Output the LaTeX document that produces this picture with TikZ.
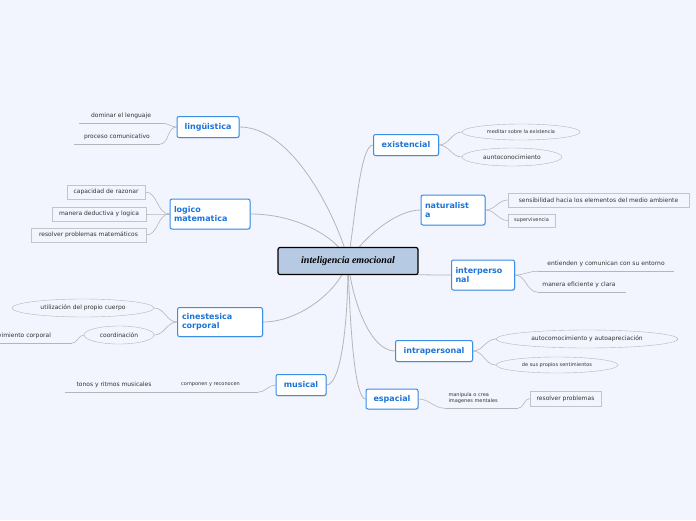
\documentclass[tikz,border=0pt]{standalone}
\usepackage{fontspec}
\setmainfont{DejaVu Sans}
\newfontfamily\cfont{Liberation Serif}
\usetikzlibrary{backgrounds,shadows,shapes.geometric}
\definecolor{bg}{HTML}{F2F5FD}
\definecolor{bl}{HTML}{1C74D9}
\definecolor{bbord}{HTML}{3A8EE6}
\definecolor{cfill}{HTML}{B7CAE3}
\definecolor{ln}{HTML}{B5B5BA}
\definecolor{tx}{HTML}{333333}
\tikzset{
 x=1pt,y=-1pt,
 branch/.style={draw=bbord,line width=1pt,fill=white,rounded corners=2pt,text=bl,font=\fontsize{8}{9}\selectfont\bfseries,align=left,inner sep=0pt,drop shadow={shadow xshift=0.8pt,shadow yshift=-0.8pt,opacity=0.25}},
 lbox/.style={draw=ln!80,fill=bg,text=tx,font=\fontsize{6}{7}\selectfont,inner sep=0pt,minimum height=14pt},
 lell/.style={draw=ln,ellipse,fill=bg,text=tx,font=\fontsize{6}{7}\selectfont,inner sep=0pt},
 lund/.style={text=tx,font=\fontsize{6}{7}\selectfont,inner sep=0pt,minimum height=14pt},
 con/.style={draw=ln,line width=0.8pt},
 ucon/.style={draw=ln,line width=0.6pt}
}
\begin{document}
\begin{tikzpicture}
\useasboundingbox (0,0) rectangle (696,520);
\node[draw=black,line width=1.2pt,fill=cfill,rounded corners=2pt,minimum width=140pt,minimum height=27pt,font=\cfont\fontsize{10}{11}\selectfont\bfseries\itshape] (c) at (348,261) {inteligencia emocional};
% branches
\node[branch,minimum width=62pt,minimum height=21pt] (lin) at (208,127) {lingüistica};
\node[branch,minimum width=80pt,minimum height=30pt,text width=72pt] (log) at (210,214) {logico\\matematica};
\node[branch,minimum width=85pt,minimum height=29pt,text width=76pt] (cin) at (220,322) {cinestesica\\corporal};
\node[branch,minimum width=50pt,minimum height=21pt] (mus) at (301,385) {musical};
\node[branch,minimum width=52pt,minimum height=20pt] (esp) at (392,399) {espacial};
\node[branch,minimum width=77pt,minimum height=21pt] (intra) at (434,351) {intrapersonal};
\node[branch,minimum width=63pt,minimum height=30pt,text width=55pt] (inter) at (483,275) {interperso\\nal};
\node[branch,minimum width=64pt,minimum height=30pt,text width=56pt] (nat) at (453,210) {naturalist\\a};
\node[branch,minimum width=65pt,minimum height=21pt] (exi) at (406,145) {existencial};
% leaves
\node[lund,minimum width=83pt] (l1) at (121,116) {dominar el lenguaje};
\node[lund,minimum width=85pt] (l2) at (117,137) {proceso comunicativo};
\node[lbox,minimum width=78pt] (g1) at (106,192) {capacidad de razonar};
\node[lbox,minimum width=94pt] (g2) at (99,214) {manera deductiva y logica};
\node[lbox,minimum width=115pt] (g3) at (88.5,235) {resolver problemas matemáticos};
\node[lell,minimum width=142pt,minimum height=18pt] (k1) at (83,308) {utilización del propio cuerpo};
\node[lell,minimum width=70pt,minimum height=18pt] (k2) at (119,335) {coordinación};
\node[lund,anchor=east,minimum width=90pt] (k3) at (72,336) {\hfill movimiento corporal\hspace*{14pt}};
\node[lund,minimum width=98pt] (m2) at (114,385) {tonos y ritmos musicales};
\node[lund,minimum width=95pt,font=\fontsize{5}{6}\selectfont] (m1) at (210.5,385) {componen y reconocen};
\node[lell,minimum width=118pt,minimum height=16pt,font=\fontsize{5}{6}\selectfont] (e1) at (521,132) {meditar sobre la existencia};
\node[lell,minimum width=100pt,minimum height=18pt] (e2) at (512,157) {auntoconocimiento};
\node[lbox,minimum width=181pt] (n1) at (598.5,200) {sensibilidad hacia los elementos del medio ambiente};
\node[lbox,minimum width=47pt,minimum height=13pt,font=\fontsize{5}{6}\selectfont] (n2) at (531.5,220.5) {supervivencia};
\node[lund,minimum width=136pt] (i1) at (606,264) {entienden y comunican con su entorno};
\node[lund,minimum width=88pt] (i2) at (582,285) {manera eficiente y clara\hspace*{6pt}};
\node[lell,minimum width=182pt,minimum height=18pt] (a1) at (587,339) {autocomocimiento y autoapreciación};
\node[lell,minimum width=122pt,minimum height=16pt,font=\fontsize{5}{6}\selectfont] (a2) at (557,365) {de sus propios sentimientos};
\node[lund,minimum width=73pt,minimum height=20pt,font=\fontsize{5}{6.5}\selectfont,align=left,text width=66pt] (s1) at (481.5,398) {manipula o crea\\imagenes mentales};
\node[lbox,minimum width=71pt,minimum height=15pt] (s2) at (565.5,398.5) {resolver problemas};
\begin{scope}[on background layer]
\fill[bg] (0,0) rectangle (696,520);
\path[con] (c.center) ..controls (345,240) and (300,127) .. (lin.east);
\path[con] (c.center) ..controls (340,240) and (300,214) .. (log.east);
\path[con] (c.center) ..controls (340,290) and (300,322) .. (cin.east);
\path[con] (c.center) ..controls (348,330) and (340,385) .. (mus.east);
\path[con] (c.center) ..controls (350,330) and (355,399) .. (esp.west);
\path[con] (c.center) ..controls (352,300) and (370,351) .. (intra.west);
\path[con] (c.center) ..controls (360,275) and (420,275) .. (inter.west);
\path[con] (c.center) ..controls (370,230) and (400,210) .. (nat.west);
\path[con] (c.center) ..controls (355,220) and (360,145) .. (exi.west);
\foreach \n in {l1,l2,m2,m1,k3,i1,i2,s1}{\path[ucon] (\n.south west) -- (\n.south east);}
\path[ucon] (lin.west) to[out=180,in=0] (l1.south east);
\path[ucon] (lin.west) to[out=180,in=0] (l2.south east);
\path[ucon] (log.west) to[out=180,in=0] (g1.east);
\path[ucon] (log.west) to[out=180,in=0] (g2.east);
\path[ucon] (log.west) to[out=180,in=0] (g3.east);
\path[ucon] (cin.west) to[out=180,in=0] (k1.east);
\path[ucon] (cin.west) to[out=180,in=0] (k2.east);
\path[ucon] (k2.west) to[out=180,in=0] (k3.south east);
\path[ucon] (mus.west) to[out=180,in=0] (m1.south east);
\path[ucon] (exi.east) to[out=0,in=180] (e1.west);
\path[ucon] (exi.east) to[out=0,in=180] (e2.west);
\path[ucon] (nat.east) to[out=0,in=180] (n1.west);
\path[ucon] (nat.east) to[out=0,in=180] (n2.west);
\path[ucon] (inter.east) to[out=0,in=180] (i1.south west);
\path[ucon] (inter.east) to[out=0,in=180] (i2.south west);
\path[ucon] (intra.east) to[out=0,in=180] (a1.west);
\path[ucon] (intra.east) to[out=0,in=180] (a2.west);
\path[ucon] (esp.east) to[out=0,in=180] (s1.south west);
\path[ucon] (s1.south east) to[out=0,in=180] (s2.west);
\end{scope}
\end{tikzpicture}
\end{document}
